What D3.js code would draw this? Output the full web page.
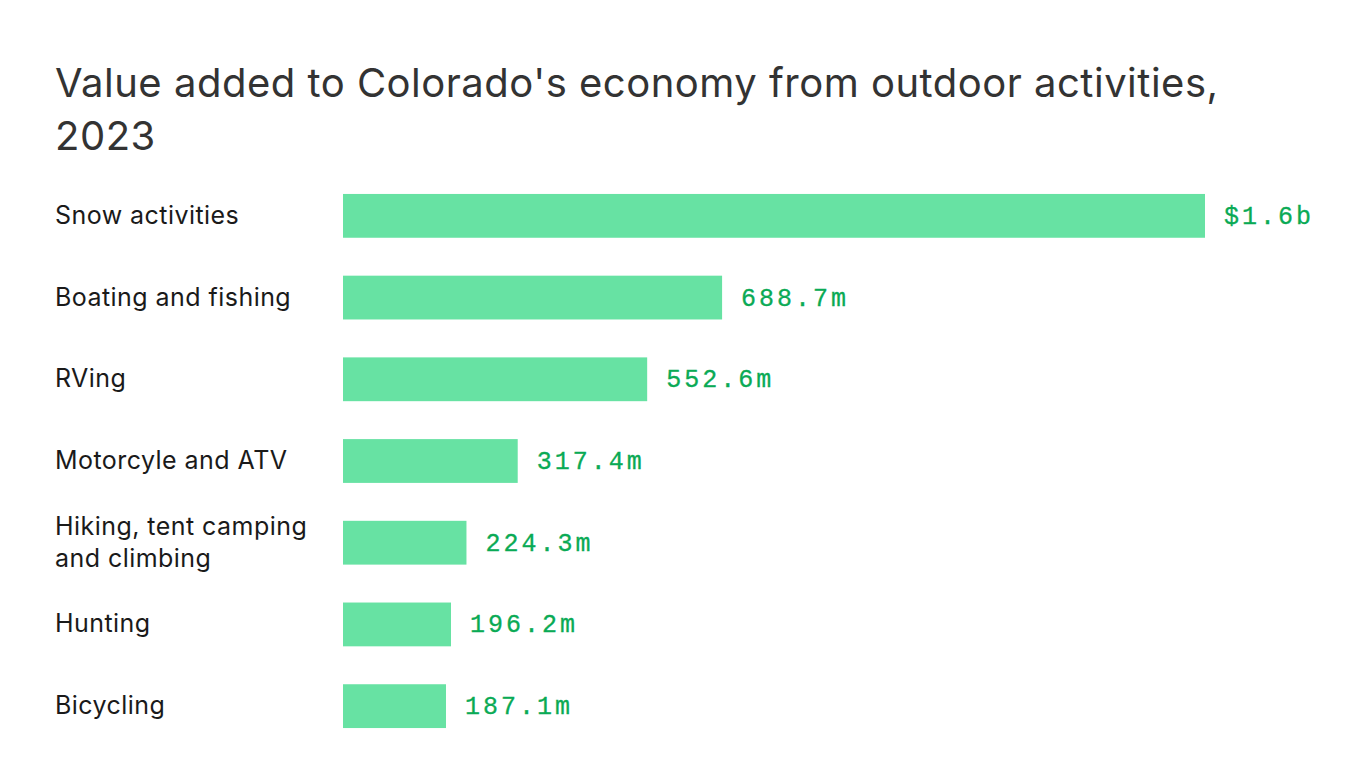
<!DOCTYPE html>
<html>
<head>
<meta charset="utf-8">
<script src="https://cdn.jsdelivr.net/npm/d3@7"></script>
<style>
  body { margin: 0; background: #fff; }
  svg { display: block; }
</style>
</head>
<body>
<svg id="chart"></svg>
<script>
// ----- Data -----
const categories = ["Snow activities", "Boating and fishing", "RVing", "Motorcyle and ATV",
                    "Hiking, tent camping\nand climbing", "Hunting", "Bicycling"];
const values = [1566, 688.7, 552.6, 317.4, 224.3, 196.2, 187.1];
const valueLabels = ["$1.6b", "688.7m", "552.6m", "317.4m", "224.3m", "196.2m", "187.1m"];
const titleLines = ["Value added to Colorado's economy from outdoor activities,", "2023"];

// ----- Layout -----
const width = 1366, height = 768;
const barLeft = 343, barRight = 1205;
const rowTop = 175, rowBottom = 747;

const svg = d3.select("#chart").attr("width", width).attr("height", height);

const x = d3.scaleLinear().domain([0, values[0]]).range([barLeft, barRight]);
const y = d3.scaleBand().domain(d3.range(categories.length))
    .range([rowTop, rowBottom]).paddingInner(0.464).paddingOuter(0.232);

// Title
svg.append("g").selectAll("text").data(titleLines).join("text")
    .attr("x", 55)
    .attr("y", (d, i) => 97 + i * 53)
    .attr("font-family", "Inter, 'Noto Sans', sans-serif")
    .attr("font-size", 40)
    .attr("letter-spacing", 0.5)
    .attr("fill", "#333")
    .text(d => d);

const rows = svg.append("g").selectAll("g").data(categories).join("g");

// Category labels (may wrap on two lines)
rows.append("text")
    .attr("font-family", "Inter, 'Noto Sans', sans-serif")
    .attr("font-size", 25)
    .attr("letter-spacing", 0.45)
    .attr("fill", "#1a1a1a")
    .each(function(d, i) {
        const lines = d.split("\n");
        const cy = y(i) + y.bandwidth() / 2;
        d3.select(this).selectAll("tspan").data(lines).join("tspan")
            .attr("x", 55)
            .attr("y", (l, j) => cy + 8 + (j - (lines.length - 1) / 2) * 32)
            .text(l => l);
    });

// Bars
rows.append("rect")
    .attr("x", x(0))
    .attr("y", (d, i) => y(i))
    .attr("width", (d, i) => x(values[i]) - x(0))
    .attr("height", y.bandwidth())
    .attr("fill", "#67e2a3");

// Value labels
rows.append("text")
    .attr("x", (d, i) => x(values[i]) + 19)
    .attr("y", (d, i) => y(i) + y.bandwidth() / 2 + 8)
    .attr("font-family", "'Liberation Mono', 'DejaVu Sans Mono', monospace")
    .attr("font-size", 25)
    .attr("letter-spacing", 3)
    .attr("fill", "#0aaa55")
    .attr("stroke", "#0aaa55")
    .attr("stroke-width", 0.3)
    .text((d, i) => valueLabels[i]);
</script>
</body>
</html>
